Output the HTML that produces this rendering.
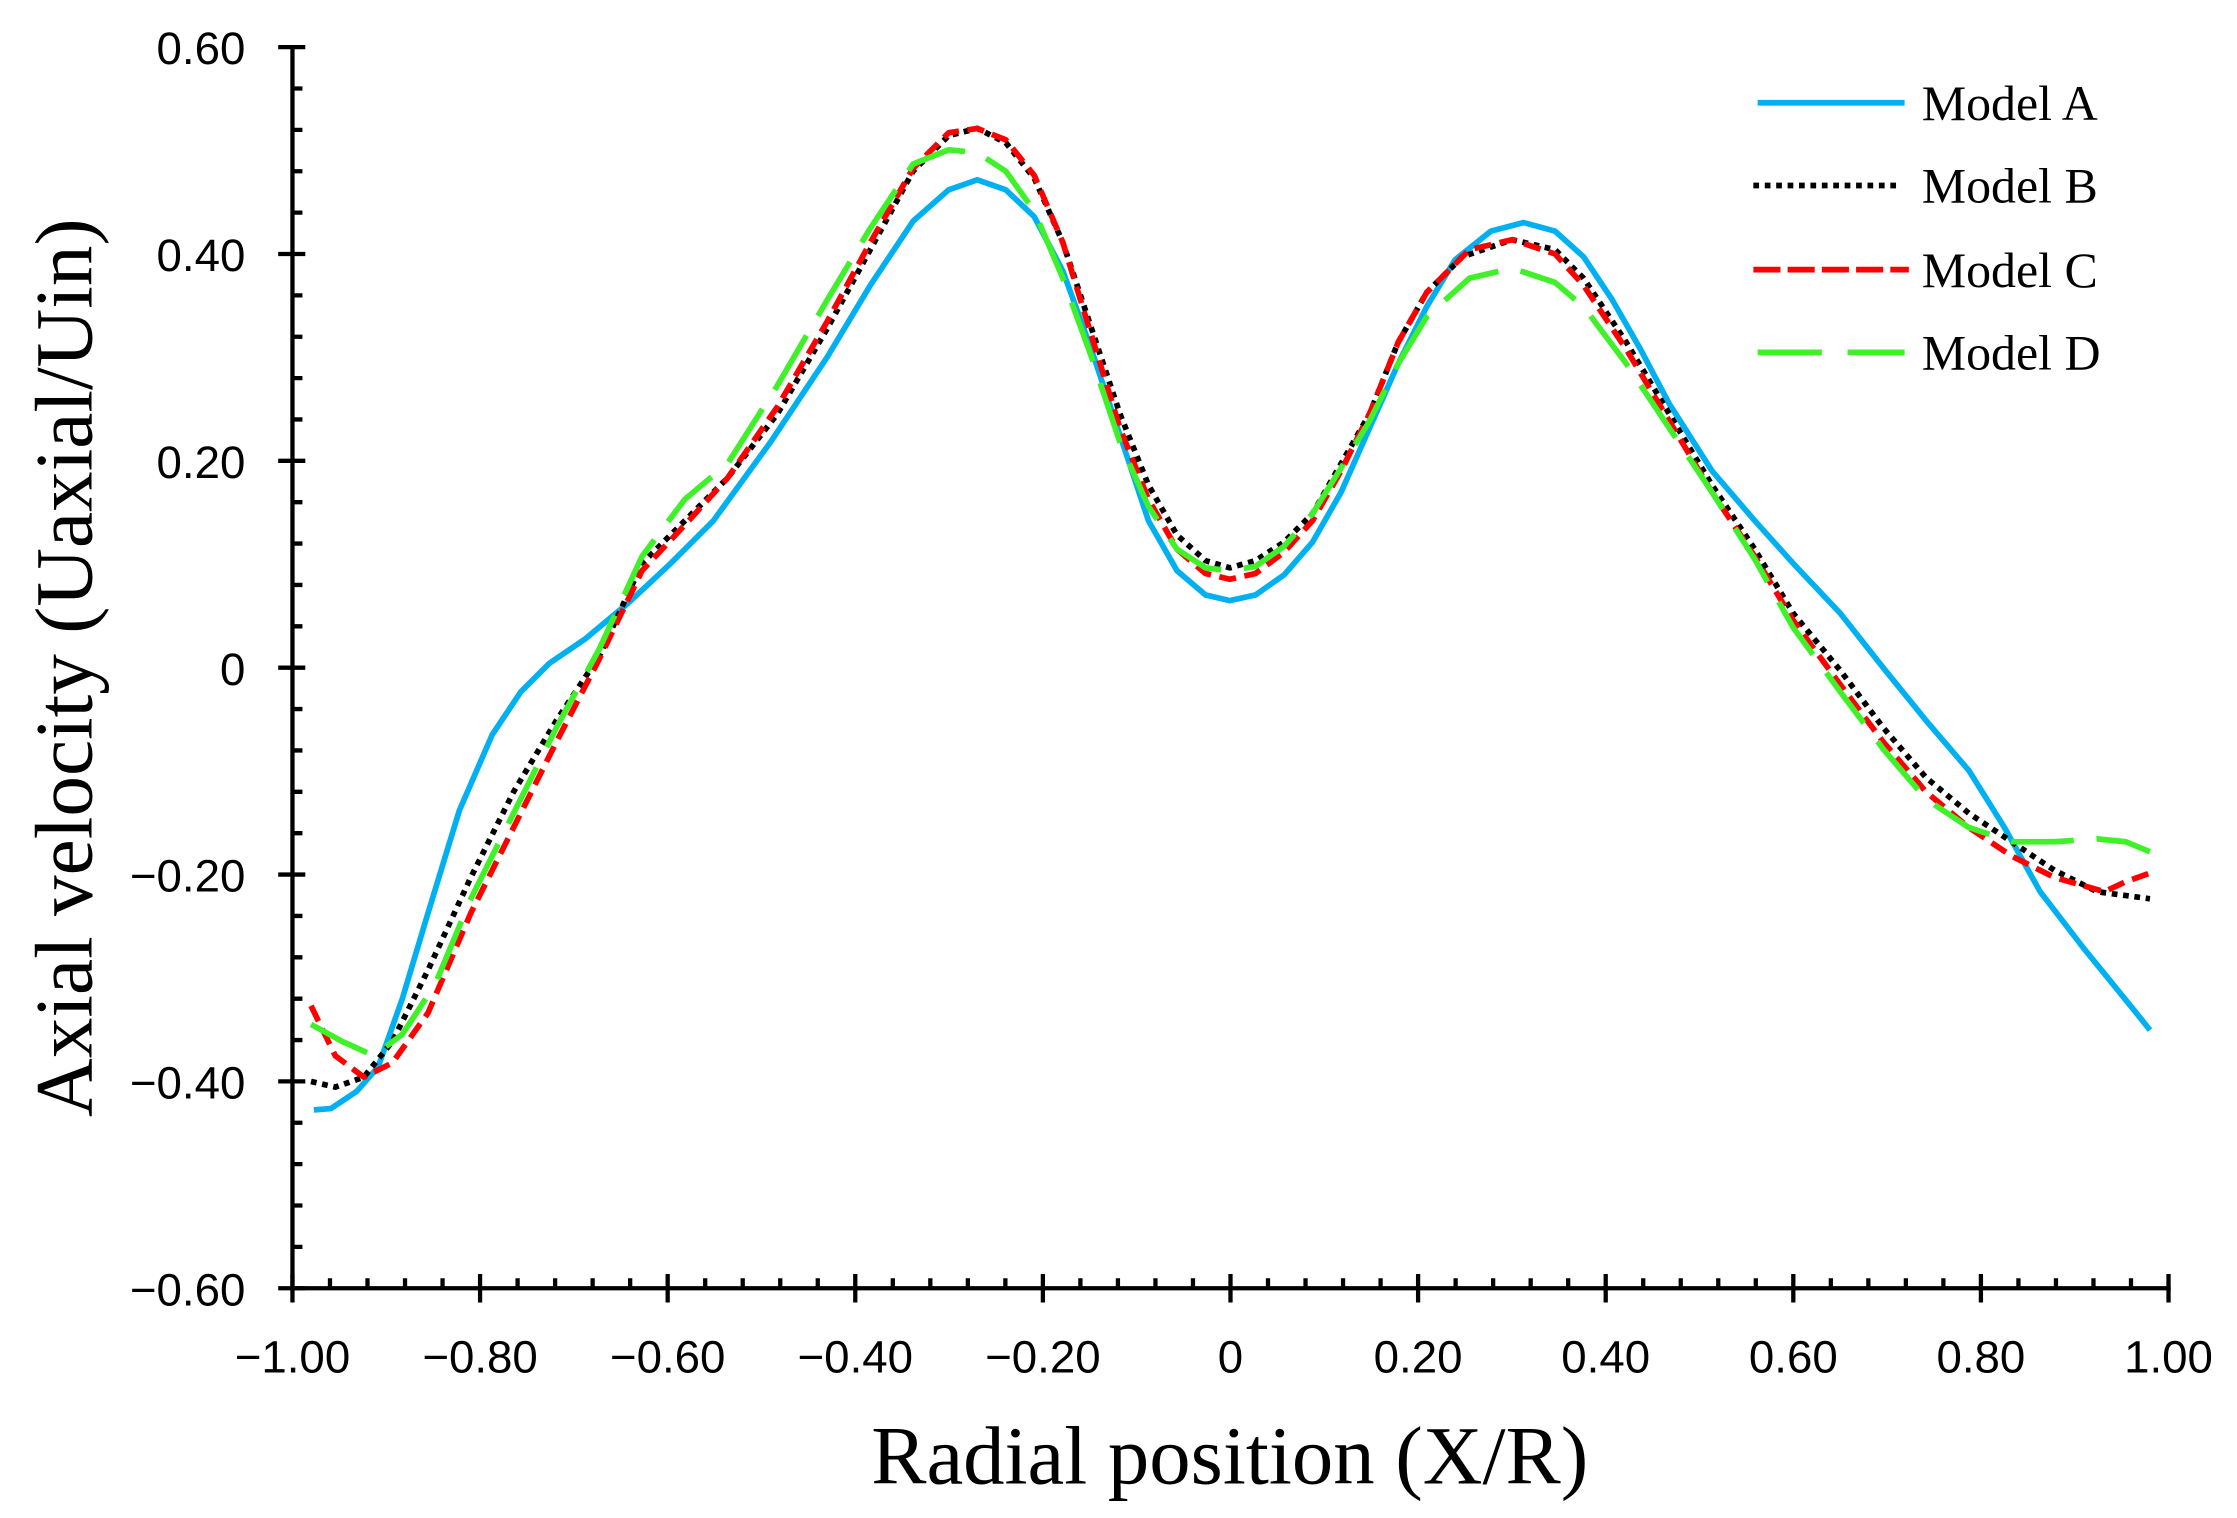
<!DOCTYPE html>
<html><head><meta charset="utf-8"><style>html,body{margin:0;padding:0;background:#fff}</style></head>
<body>
<svg width="2237" height="1513" viewBox="0 0 1568 1060.5" xmlns="http://www.w3.org/2000/svg">
<rect width="1568" height="1060.5" fill="#fff"/>
<g stroke="#000" stroke-width="3" fill="none">
<line x1="205" y1="31.5" x2="205" y2="904.5"/>
<line x1="203.5" y1="903" x2="1521.5" y2="903"/>
<path d="M195 33H214M195 178H214M195 323H214M195 468H214M195 613H214M195 758H214M195 903H214"/>
<path d="M205 62H212M205 91H212M205 120H212M205 149H212M205 207H212M205 236H212M205 265H212M205 294H212M205 352H212M205 381H212M205 410H212M205 439H212M205 497H212M205 526H212M205 555H212M205 584H212M205 642H212M205 671H212M205 700H212M205 729H212M205 787H212M205 816H212M205 845H212M205 874H212"/>
<path d="M205 893V913M336.5 893V913M468 893V913M599.5 893V913M731 893V913M862.5 893V913M994 893V913M1125.5 893V913M1257 893V913M1388.5 893V913M1520 893V913"/>
</g>
<g font-family="'Liberation Sans',sans-serif" font-size="32" fill="#000" text-anchor="end">
<text x="172" y="45">0.60</text><text x="172" y="190">0.40</text><text x="172" y="335">0.20</text><text x="172" y="480">0</text><text x="172" y="625">−0.20</text><text x="172" y="770">−0.40</text><text x="172" y="915">−0.60</text>
</g>
<g font-family="'Liberation Sans',sans-serif" font-size="32" fill="#000" text-anchor="middle">
<text x="205" y="962">−1.00</text><text x="336.5" y="962">−0.80</text><text x="468" y="962">−0.60</text><text x="599.5" y="962">−0.40</text><text x="731" y="962">−0.20</text><text x="862.5" y="962">0</text><text x="994" y="962">0.20</text><text x="1125.5" y="962">0.40</text><text x="1257" y="962">0.60</text><text x="1388.5" y="962">0.80</text><text x="1520" y="962">1.00</text>
</g>
<text x="862" y="1040" font-family="'Liberation Serif',serif" font-size="58" text-anchor="middle">Radial position (X/R)</text>
<text transform="translate(64,468) rotate(-90)" font-family="'Liberation Serif',serif" font-size="57" text-anchor="middle">Axial velocity (Uaxial/Uin)</text>
<g fill="none" stroke-linejoin="round" stroke-width="4">
<polyline stroke="#00B0F0" points="220,778 232,777 250,765 265,748 282,700 300,640 322,568 345,515 365,485 385,465 410,448 440,423 470,395 500,365 540,310 580,250 610,200 640,155 665,133 685,126 705,133 725,152 745,190 765,245 785,305 805,365 825,400 845,417 862,421 880,417 900,403 920,380 940,345 960,300 980,255 1000,215 1020,182 1045,162 1068,156 1090,162 1110,180 1130,210 1150,245 1170,283 1200,330 1230,365 1257,395 1290,430 1320,468 1350,505 1380,540 1405,580 1430,625 1460,664 1495,707 1507,722"/>
<polyline stroke="#000" stroke-dasharray="4,4" points="218,758 235,762 255,755 275,730 300,680 330,615 360,555 390,505 420,460 450,395 480,365 510,335 545,290 580,230 610,175 640,120 665,95 685,90 705,100 725,125 745,170 765,230 785,290 805,340 825,375 845,393 862,398 880,393 900,380 920,360 940,325 960,290 980,240 1000,205 1025,180 1060,168 1090,175 1110,195 1140,240 1170,290 1200,340 1230,385 1257,430 1290,470 1320,510 1350,545 1380,570 1410,590 1440,610 1470,625 1507,630"/>
<polyline stroke="#FF0000" stroke-dasharray="12,6" points="218,705 235,740 255,755 275,745 300,710 330,640 360,580 390,520 420,462 450,400 480,368 510,335 545,285 580,225 610,170 640,118 665,93 685,90 705,98 725,123 745,170 765,235 785,300 805,350 825,385 845,402 862,406 880,402 900,387 920,365 940,330 960,290 980,240 1000,205 1030,175 1060,168 1090,178 1110,200 1140,245 1170,295 1200,345 1230,390 1257,435 1290,480 1320,520 1350,555 1380,580 1410,600 1440,615 1475,625 1490,618 1507,612"/>
<polyline stroke="#40F028" stroke-dasharray="44,16" points="218,718 240,730 262,740 282,725 305,690 330,630 360,570 390,510 420,455 450,390 480,350 510,325 545,270 580,210 610,160 640,115 665,105 685,107 705,120 725,148 745,195 765,250 785,310 805,355 825,385 845,398 862,400 880,397 900,383 920,360 940,328 960,295 980,255 1000,222 1030,195 1060,188 1090,198 1110,215 1140,255 1170,300 1200,345 1230,392 1257,440 1290,485 1320,525 1350,560 1380,580 1410,590 1440,590 1470,588 1490,590 1507,597"/>
<line x1="1232" y1="72" x2="1335" y2="72" stroke="#00B0F0"/>
<line x1="1229" y1="130" x2="1333" y2="130" stroke="#000" stroke-dasharray="4,4"/>
<line x1="1229" y1="189" x2="1338" y2="189" stroke="#FF0000" stroke-dasharray="19,5"/>
<line x1="1232" y1="247" x2="1335" y2="247" stroke="#40F028" stroke-dasharray="45,18"/>
</g>
<g font-family="'Liberation Serif',serif" font-size="35" fill="#000">
<text x="1347" y="84">Model A</text><text x="1347" y="142">Model B</text><text x="1347" y="201">Model C</text><text x="1347" y="259">Model D</text>
</g>
<g stroke="#000" stroke-width="3">
<path d="M231.3 903V896M257.6 903V896M283.9 903V896M310.2 903V896M362.8 903V896M389.1 903V896M415.4 903V896M441.7 903V896M494.3 903V896M520.6 903V896M546.9 903V896M573.2 903V896M625.8 903V896M652.1 903V896M678.4 903V896M704.7 903V896M757.3 903V896M783.6 903V896M809.9 903V896M836.2 903V896M888.8 903V896M915.1 903V896M941.4 903V896M967.7 903V896M1020.3 903V896M1046.6 903V896M1072.9 903V896M1099.2 903V896M1151.8 903V896M1178.1 903V896M1204.4 903V896M1230.7 903V896M1283.3 903V896M1309.6 903V896M1335.9 903V896M1362.2 903V896M1414.8 903V896M1441.1 903V896M1467.4 903V896M1493.7 903V896"/>
</g>
</svg>
</body></html>
